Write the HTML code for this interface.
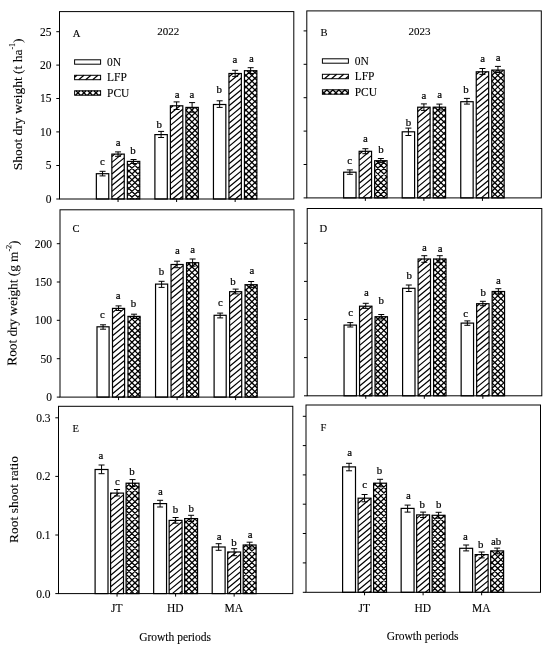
<!DOCTYPE html>
<html lang="en"><head><meta charset="utf-8"><title>Figure</title>
<style>html,body{margin:0;padding:0;background:#fff}svg{display:block}text{font-family:"Liberation Serif", serif;fill:#000;stroke:#000;stroke-width:0.1px}.l{stroke-width:0.2px}</style></head><body>
<svg width="550" height="646" viewBox="0 0 550 646">
<rect width="550" height="646" fill="#fff"/>
<g id="panelA">
<rect x="96.35" y="173.70" width="12.40" height="25.30" fill="#fff" stroke="#000" stroke-width="1.2"/>
<path d="M102.55,171.30 V175.90 M99.55,171.30 h6 M99.55,175.90 h6" stroke="#000" stroke-width="1" fill="none"/>
<rect x="111.85" y="154.10" width="12.40" height="44.90" fill="#fff" stroke="#000" stroke-width="1.2"/>
<path d="M111.85,156.56 L114.82,154.10 M111.85,162.36 L121.81,154.10 M111.85,168.16 L124.25,157.87 M111.85,173.96 L124.25,163.67 M111.85,179.76 L124.25,169.47 M111.85,185.56 L124.25,175.27 M111.85,191.36 L124.25,181.07 M111.85,197.16 L124.25,186.87 M116.63,199.00 L124.25,192.67 M123.61,199.00 L124.25,198.47" stroke="#000" stroke-width="1.2" fill="none"/>
<path d="M118.05,151.90 V156.30 M115.05,151.90 h6 M115.05,156.30 h6" stroke="#000" stroke-width="1" fill="none"/>
<rect x="127.35" y="161.40" width="12.40" height="37.60" fill="#fff" stroke="#000" stroke-width="1.2"/>
<path d="M127.35,166.85 L132.99,161.40 M127.35,172.65 L138.99,161.40 M127.35,178.45 L139.75,166.46 M127.35,184.25 L139.75,172.26 M127.35,190.05 L139.75,178.06 M127.35,195.85 L139.75,183.86 M130.09,199.00 L139.75,189.66 M136.09,199.00 L139.75,195.46 M136.92,161.40 L139.75,164.14 M130.92,161.40 L139.75,169.94 M127.35,163.75 L139.75,175.74 M127.35,169.55 L139.75,181.54 M127.35,175.35 L139.75,187.34 M127.35,181.15 L139.75,193.14 M127.35,186.95 L139.75,198.94 M127.35,192.75 L133.82,199.00 M127.35,198.55 L127.82,199.00" stroke="#000" stroke-width="1.3" fill="none"/>
<path d="M133.55,159.50 V163.50 M130.55,159.50 h6 M130.55,163.50 h6" stroke="#000" stroke-width="1" fill="none"/>
<rect x="154.90" y="134.60" width="12.40" height="64.40" fill="#fff" stroke="#000" stroke-width="1.2"/>
<path d="M161.10,131.40 V137.50 M158.10,131.40 h6 M158.10,137.50 h6" stroke="#000" stroke-width="1" fill="none"/>
<rect x="170.40" y="105.80" width="12.40" height="93.20" fill="#fff" stroke="#000" stroke-width="1.2"/>
<path d="M170.40,107.97 L173.01,105.80 M170.40,113.77 L180.00,105.80 M170.40,119.57 L182.80,109.28 M170.40,125.37 L182.80,115.08 M170.40,131.17 L182.80,120.88 M170.40,136.97 L182.80,126.68 M170.40,142.77 L182.80,132.48 M170.40,148.57 L182.80,138.28 M170.40,154.37 L182.80,144.08 M170.40,160.17 L182.80,149.88 M170.40,165.97 L182.80,155.68 M170.40,171.77 L182.80,161.48 M170.40,177.57 L182.80,167.28 M170.40,183.37 L182.80,173.08 M170.40,189.17 L182.80,178.88 M170.40,194.97 L182.80,184.68 M172.53,199.00 L182.80,190.48 M179.52,199.00 L182.80,196.28" stroke="#000" stroke-width="1.2" fill="none"/>
<path d="M176.60,101.90 V109.50 M173.60,101.90 h6 M173.60,109.50 h6" stroke="#000" stroke-width="1" fill="none"/>
<rect x="185.90" y="107.40" width="12.40" height="91.60" fill="#fff" stroke="#000" stroke-width="1.2"/>
<path d="M185.90,110.23 L188.83,107.40 M185.90,116.03 L194.83,107.40 M185.90,121.83 L198.30,109.84 M185.90,127.63 L198.30,115.64 M185.90,133.43 L198.30,121.44 M185.90,139.23 L198.30,127.24 M185.90,145.03 L198.30,133.04 M185.90,150.83 L198.30,138.84 M185.90,156.63 L198.30,144.64 M185.90,162.43 L198.30,150.44 M185.90,168.23 L198.30,156.24 M185.90,174.03 L198.30,162.04 M185.90,179.83 L198.30,167.84 M185.90,185.63 L198.30,173.64 M185.90,191.43 L198.30,179.44 M185.90,197.23 L198.30,185.24 M190.07,199.00 L198.30,191.04 M196.07,199.00 L198.30,196.84 M195.04,107.40 L198.30,110.56 M189.04,107.40 L198.30,116.36 M185.90,110.17 L198.30,122.16 M185.90,115.97 L198.30,127.96 M185.90,121.77 L198.30,133.76 M185.90,127.57 L198.30,139.56 M185.90,133.37 L198.30,145.36 M185.90,139.17 L198.30,151.16 M185.90,144.97 L198.30,156.96 M185.90,150.77 L198.30,162.76 M185.90,156.57 L198.30,168.56 M185.90,162.37 L198.30,174.36 M185.90,168.17 L198.30,180.16 M185.90,173.97 L198.30,185.96 M185.90,179.77 L198.30,191.76 M185.90,185.57 L198.30,197.56 M185.90,191.37 L193.80,199.00 M185.90,197.17 L187.80,199.00" stroke="#000" stroke-width="1.3" fill="none"/>
<path d="M192.10,102.60 V112.20 M189.10,102.60 h6 M189.10,112.20 h6" stroke="#000" stroke-width="1" fill="none"/>
<rect x="213.45" y="104.50" width="12.40" height="94.50" fill="#fff" stroke="#000" stroke-width="1.2"/>
<path d="M219.65,100.80 V107.40 M216.65,100.80 h6 M216.65,107.40 h6" stroke="#000" stroke-width="1" fill="none"/>
<rect x="228.95" y="73.50" width="12.40" height="125.50" fill="#fff" stroke="#000" stroke-width="1.2"/>
<path d="M228.95,76.77 L232.89,73.50 M228.95,82.57 L239.88,73.50 M228.95,88.37 L241.35,78.08 M228.95,94.17 L241.35,83.88 M228.95,99.97 L241.35,89.68 M228.95,105.77 L241.35,95.48 M228.95,111.57 L241.35,101.28 M228.95,117.37 L241.35,107.08 M228.95,123.17 L241.35,112.88 M228.95,128.97 L241.35,118.68 M228.95,134.77 L241.35,124.48 M228.95,140.57 L241.35,130.28 M228.95,146.37 L241.35,136.08 M228.95,152.17 L241.35,141.88 M228.95,157.97 L241.35,147.68 M228.95,163.77 L241.35,153.48 M228.95,169.57 L241.35,159.28 M228.95,175.37 L241.35,165.08 M228.95,181.17 L241.35,170.88 M228.95,186.97 L241.35,176.68 M228.95,192.77 L241.35,182.48 M228.95,198.57 L241.35,188.28 M235.42,199.00 L241.35,194.08" stroke="#000" stroke-width="1.2" fill="none"/>
<path d="M235.15,70.30 V76.40 M232.15,70.30 h6 M232.15,76.40 h6" stroke="#000" stroke-width="1" fill="none"/>
<rect x="244.45" y="70.70" width="12.40" height="128.30" fill="#fff" stroke="#000" stroke-width="1.2"/>
<path d="M244.45,71.02 L244.78,70.70 M244.45,76.82 L250.78,70.70 M244.45,82.62 L256.77,70.70 M244.45,88.42 L256.85,76.43 M244.45,94.22 L256.85,82.23 M244.45,100.02 L256.85,88.03 M244.45,105.82 L256.85,93.83 M244.45,111.62 L256.85,99.63 M244.45,117.42 L256.85,105.43 M244.45,123.22 L256.85,111.23 M244.45,129.02 L256.85,117.03 M244.45,134.82 L256.85,122.83 M244.45,140.62 L256.85,128.63 M244.45,146.42 L256.85,134.43 M244.45,152.22 L256.85,140.23 M244.45,158.02 L256.85,146.03 M244.45,163.82 L256.85,151.83 M244.45,169.62 L256.85,157.63 M244.45,175.42 L256.85,163.43 M244.45,181.22 L256.85,169.23 M244.45,187.02 L256.85,175.03 M244.45,192.82 L256.85,180.83 M244.45,198.62 L256.85,186.63 M250.05,199.00 L256.85,192.43 M256.05,199.00 L256.85,198.23 M253.05,70.70 L256.85,74.37 M247.05,70.70 L256.85,80.17 M244.45,73.98 L256.85,85.97 M244.45,79.78 L256.85,91.77 M244.45,85.58 L256.85,97.57 M244.45,91.38 L256.85,103.37 M244.45,97.18 L256.85,109.17 M244.45,102.98 L256.85,114.97 M244.45,108.78 L256.85,120.77 M244.45,114.58 L256.85,126.57 M244.45,120.38 L256.85,132.37 M244.45,126.18 L256.85,138.17 M244.45,131.98 L256.85,143.97 M244.45,137.78 L256.85,149.77 M244.45,143.58 L256.85,155.57 M244.45,149.38 L256.85,161.37 M244.45,155.18 L256.85,167.17 M244.45,160.98 L256.85,172.97 M244.45,166.78 L256.85,178.77 M244.45,172.58 L256.85,184.57 M244.45,178.38 L256.85,190.37 M244.45,184.18 L256.85,196.17 M244.45,189.98 L253.77,199.00 M244.45,195.78 L247.78,199.00" stroke="#000" stroke-width="1.3" fill="none"/>
<path d="M250.65,67.70 V73.50 M247.65,67.70 h6 M247.65,73.50 h6" stroke="#000" stroke-width="1" fill="none"/>
<rect x="59.50" y="11.60" width="234.30" height="187.40" fill="none" stroke="#000" stroke-width="1"/>
<path d="M59.50,31.70 h-3.2 M59.50,65.10 h-3.2 M59.50,98.50 h-3.2 M59.50,131.90 h-3.2 M59.50,165.50 h-3.2 M59.50,199.00 h-3.2 M118.05,199.00 v3 M176.60,199.00 v3 M235.15,199.00 v3 " stroke="#000" stroke-width="1" fill="none"/>
<text x="51.60" y="35.60" font-size="11.5" text-anchor="end">25</text>
<text x="51.60" y="69.00" font-size="11.5" text-anchor="end">20</text>
<text x="51.60" y="102.40" font-size="11.5" text-anchor="end">15</text>
<text x="51.60" y="135.80" font-size="11.5" text-anchor="end">10</text>
<text x="51.60" y="169.40" font-size="11.5" text-anchor="end">5</text>
<text x="51.60" y="202.90" font-size="11.5" text-anchor="end">0</text>
<text class="l" x="102.50" y="165.00" font-size="10.8" text-anchor="middle">c</text>
<text class="l" x="118.20" y="145.80" font-size="10.8" text-anchor="middle">a</text>
<text class="l" x="133.00" y="154.10" font-size="10.8" text-anchor="middle">b</text>
<text class="l" x="159.20" y="128.10" font-size="10.8" text-anchor="middle">b</text>
<text class="l" x="177.10" y="98.20" font-size="10.8" text-anchor="middle">a</text>
<text class="l" x="191.90" y="98.20" font-size="10.8" text-anchor="middle">a</text>
<text class="l" x="219.20" y="92.50" font-size="10.8" text-anchor="middle">b</text>
<text class="l" x="234.90" y="62.60" font-size="10.8" text-anchor="middle">a</text>
<text class="l" x="251.30" y="61.50" font-size="10.8" text-anchor="middle">a</text>
<text x="72.70" y="36.80" font-size="10.6">A</text>
<text x="168.20" y="35.10" font-size="11" text-anchor="middle">2022</text>
<rect x="74.60" y="59.80" width="26" height="4.4" fill="#fff" stroke="#000" stroke-width="1"/>
<text x="107.00" y="65.60" font-size="11.5">0N</text>
<rect x="74.60" y="75.30" width="26" height="4.4" fill="#fff" stroke="#000" stroke-width="1"/>
<path d="M74.60,77.28 L76.99,75.30 M78.67,79.70 L83.98,75.30 M85.66,79.70 L90.96,75.30 M92.65,79.70 L97.95,75.30 M99.64,79.70 L100.60,78.90" stroke="#000" stroke-width="1.2" fill="none"/>
<text x="107.00" y="81.10" font-size="11.5">LFP</text>
<rect x="74.60" y="90.80" width="26" height="4.4" fill="#fff" stroke="#000" stroke-width="1"/>
<path d="M75.49,95.20 L80.04,90.80 M81.49,95.20 L86.04,90.80 M87.49,95.20 L92.04,90.80 M93.49,95.20 L98.04,90.80 M99.48,95.20 L100.60,94.12 M99.90,90.80 L100.60,91.48 M93.90,90.80 L98.45,95.20 M87.90,90.80 L92.45,95.20 M81.90,90.80 L86.45,95.20 M75.90,90.80 L80.46,95.20" stroke="#000" stroke-width="1.3" fill="none"/>
<text x="107.00" y="96.60" font-size="11.5">PCU</text>
</g>
<g id="panelB">
<rect x="343.65" y="172.20" width="12.40" height="25.70" fill="#fff" stroke="#000" stroke-width="1.2"/>
<path d="M349.85,169.90 V174.30 M346.85,169.90 h6 M346.85,174.30 h6" stroke="#000" stroke-width="1" fill="none"/>
<rect x="359.15" y="151.30" width="12.40" height="46.60" fill="#fff" stroke="#000" stroke-width="1.2"/>
<path d="M359.15,154.31 L362.77,151.30 M359.15,160.11 L369.76,151.30 M359.15,165.91 L371.55,155.61 M359.15,171.71 L371.55,161.41 M359.15,177.51 L371.55,167.21 M359.15,183.31 L371.55,173.01 M359.15,189.11 L371.55,178.81 M359.15,194.91 L371.55,184.61 M362.53,197.90 L371.55,190.41 M369.52,197.90 L371.55,196.21" stroke="#000" stroke-width="1.2" fill="none"/>
<path d="M365.35,148.70 V153.70 M362.35,148.70 h6 M362.35,153.70 h6" stroke="#000" stroke-width="1" fill="none"/>
<rect x="374.65" y="160.70" width="12.40" height="37.20" fill="#fff" stroke="#000" stroke-width="1.2"/>
<path d="M374.65,165.51 L379.63,160.70 M374.65,171.31 L385.63,160.70 M374.65,177.11 L387.05,165.12 M374.65,182.91 L387.05,170.92 M374.65,188.71 L387.05,176.72 M374.65,194.51 L387.05,182.52 M377.15,197.90 L387.05,188.32 M383.14,197.90 L387.05,194.12 M382.11,160.70 L387.05,165.48 M376.11,160.70 L387.05,171.28 M374.65,165.09 L387.05,177.08 M374.65,170.89 L387.05,182.88 M374.65,176.69 L387.05,188.68 M374.65,182.49 L387.05,194.48 M374.65,188.29 L384.59,197.90 M374.65,194.09 L378.59,197.90" stroke="#000" stroke-width="1.3" fill="none"/>
<path d="M380.85,158.50 V162.60 M377.85,158.50 h6 M377.85,162.60 h6" stroke="#000" stroke-width="1" fill="none"/>
<rect x="402.20" y="131.80" width="12.40" height="66.10" fill="#fff" stroke="#000" stroke-width="1.2"/>
<path d="M408.40,128.10 V135.50 M405.40,128.10 h6 M405.40,135.50 h6" stroke="#000" stroke-width="1" fill="none"/>
<rect x="417.70" y="107.20" width="12.40" height="90.70" fill="#fff" stroke="#000" stroke-width="1.2"/>
<path d="M417.70,111.51 L422.89,107.20 M417.70,117.31 L429.88,107.20 M417.70,123.11 L430.10,112.82 M417.70,128.91 L430.10,118.62 M417.70,134.71 L430.10,124.42 M417.70,140.51 L430.10,130.22 M417.70,146.31 L430.10,136.02 M417.70,152.11 L430.10,141.82 M417.70,157.91 L430.10,147.62 M417.70,163.71 L430.10,153.42 M417.70,169.51 L430.10,159.22 M417.70,175.31 L430.10,165.02 M417.70,181.11 L430.10,170.82 M417.70,186.91 L430.10,176.62 M417.70,192.71 L430.10,182.42 M418.43,197.90 L430.10,188.22 M425.42,197.90 L430.10,194.02" stroke="#000" stroke-width="1.2" fill="none"/>
<path d="M423.90,103.90 V110.40 M420.90,103.90 h6 M420.90,110.40 h6" stroke="#000" stroke-width="1" fill="none"/>
<rect x="433.20" y="107.20" width="12.40" height="90.70" fill="#fff" stroke="#000" stroke-width="1.2"/>
<path d="M433.20,108.90 L434.95,107.20 M433.20,114.70 L440.95,107.20 M433.20,120.50 L445.60,108.50 M433.20,126.30 L445.60,114.30 M433.20,132.10 L445.60,120.10 M433.20,137.90 L445.60,125.90 M433.20,143.70 L445.60,131.70 M433.20,149.50 L445.60,137.50 M433.20,155.30 L445.60,143.30 M433.20,161.10 L445.60,149.10 M433.20,166.90 L445.60,154.90 M433.20,172.70 L445.60,160.70 M433.20,178.50 L445.60,166.50 M433.20,184.30 L445.60,172.30 M433.20,190.10 L445.60,178.10 M433.20,195.90 L445.60,183.90 M437.13,197.90 L445.60,189.70 M443.12,197.90 L445.60,195.50 M440.74,107.20 L445.60,111.90 M434.75,107.20 L445.60,117.70 M433.20,111.50 L445.60,123.50 M433.20,117.30 L445.60,129.30 M433.20,123.10 L445.60,135.10 M433.20,128.90 L445.60,140.90 M433.20,134.70 L445.60,146.70 M433.20,140.50 L445.60,152.50 M433.20,146.30 L445.60,158.30 M433.20,152.10 L445.60,164.10 M433.20,157.90 L445.60,169.90 M433.20,163.70 L445.60,175.70 M433.20,169.50 L445.60,181.50 M433.20,175.30 L445.60,187.30 M433.20,181.10 L445.60,193.10 M433.20,186.90 L444.57,197.90 M433.20,192.70 L438.57,197.90" stroke="#000" stroke-width="1.3" fill="none"/>
<path d="M439.40,104.10 V110.00 M436.40,104.10 h6 M436.40,110.00 h6" stroke="#000" stroke-width="1" fill="none"/>
<rect x="460.75" y="101.70" width="12.40" height="96.20" fill="#fff" stroke="#000" stroke-width="1.2"/>
<path d="M466.95,98.40 V104.10 M463.95,98.40 h6 M463.95,104.10 h6" stroke="#000" stroke-width="1" fill="none"/>
<rect x="476.25" y="71.80" width="12.40" height="126.10" fill="#fff" stroke="#000" stroke-width="1.2"/>
<path d="M476.25,74.51 L479.52,71.80 M476.25,80.31 L486.51,71.80 M476.25,86.11 L488.65,75.82 M476.25,91.91 L488.65,81.62 M476.25,97.71 L488.65,87.42 M476.25,103.51 L488.65,93.22 M476.25,109.31 L488.65,99.02 M476.25,115.11 L488.65,104.82 M476.25,120.91 L488.65,110.62 M476.25,126.71 L488.65,116.42 M476.25,132.51 L488.65,122.22 M476.25,138.31 L488.65,128.02 M476.25,144.11 L488.65,133.82 M476.25,149.91 L488.65,139.62 M476.25,155.71 L488.65,145.42 M476.25,161.51 L488.65,151.22 M476.25,167.31 L488.65,157.02 M476.25,173.11 L488.65,162.82 M476.25,178.91 L488.65,168.62 M476.25,184.71 L488.65,174.42 M476.25,190.51 L488.65,180.22 M476.25,196.31 L488.65,186.02 M481.33,197.90 L488.65,191.82 M488.31,197.90 L488.65,197.62" stroke="#000" stroke-width="1.2" fill="none"/>
<path d="M482.45,68.50 V74.40 M479.45,68.50 h6 M479.45,74.40 h6" stroke="#000" stroke-width="1" fill="none"/>
<rect x="491.75" y="70.10" width="12.40" height="127.80" fill="#fff" stroke="#000" stroke-width="1.2"/>
<path d="M491.75,75.48 L497.31,70.10 M491.75,81.28 L503.31,70.10 M491.75,87.08 L504.15,75.09 M491.75,92.88 L504.15,80.89 M491.75,98.68 L504.15,86.69 M491.75,104.48 L504.15,92.49 M491.75,110.28 L504.15,98.29 M491.75,116.08 L504.15,104.09 M491.75,121.88 L504.15,109.89 M491.75,127.68 L504.15,115.69 M491.75,133.48 L504.15,121.49 M491.75,139.28 L504.15,127.29 M491.75,145.08 L504.15,133.09 M491.75,150.88 L504.15,138.89 M491.75,156.68 L504.15,144.69 M491.75,162.48 L504.15,150.49 M491.75,168.28 L504.15,156.29 M491.75,174.08 L504.15,162.09 M491.75,179.88 L504.15,167.89 M491.75,185.68 L504.15,173.69 M491.75,191.48 L504.15,179.49 M491.75,197.28 L504.15,185.29 M497.10,197.90 L504.15,191.09 M503.10,197.90 L504.15,196.89 M498.35,70.10 L504.15,75.71 M492.35,70.10 L504.15,81.51 M491.75,75.32 L504.15,87.31 M491.75,81.12 L504.15,93.11 M491.75,86.92 L504.15,98.91 M491.75,92.72 L504.15,104.71 M491.75,98.52 L504.15,110.51 M491.75,104.32 L504.15,116.31 M491.75,110.12 L504.15,122.11 M491.75,115.92 L504.15,127.91 M491.75,121.72 L504.15,133.71 M491.75,127.52 L504.15,139.51 M491.75,133.32 L504.15,145.31 M491.75,139.12 L504.15,151.11 M491.75,144.92 L504.15,156.91 M491.75,150.72 L504.15,162.71 M491.75,156.52 L504.15,168.51 M491.75,162.32 L504.15,174.31 M491.75,168.12 L504.15,180.11 M491.75,173.92 L504.15,185.91 M491.75,179.72 L504.15,191.71 M491.75,185.52 L504.15,197.51 M491.75,191.32 L498.55,197.90 M491.75,197.12 L492.55,197.90" stroke="#000" stroke-width="1.3" fill="none"/>
<path d="M497.95,66.40 V72.50 M494.95,66.40 h6 M494.95,72.50 h6" stroke="#000" stroke-width="1" fill="none"/>
<rect x="306.80" y="10.90" width="234.50" height="187.00" fill="none" stroke="#000" stroke-width="1"/>
<path d="M306.80,30.90 h-3.2 M306.80,64.30 h-3.2 M306.80,97.70 h-3.2 M306.80,131.10 h-3.2 M306.80,164.50 h-3.2 M306.80,197.90 h-3.2 M365.35,197.90 v3 M423.90,197.90 v3 M482.45,197.90 v3 " stroke="#000" stroke-width="1" fill="none"/>
<text class="l" x="349.60" y="164.10" font-size="10.8" text-anchor="middle">c</text>
<text class="l" x="365.30" y="142.10" font-size="10.8" text-anchor="middle">a</text>
<text class="l" x="380.90" y="153.20" font-size="10.8" text-anchor="middle">b</text>
<text class="l" x="408.50" y="126.30" font-size="10.8" text-anchor="middle">b</text>
<text class="l" x="423.80" y="99.10" font-size="10.8" text-anchor="middle">a</text>
<text class="l" x="439.70" y="98.40" font-size="10.8" text-anchor="middle">a</text>
<text class="l" x="465.90" y="92.50" font-size="10.8" text-anchor="middle">b</text>
<text class="l" x="482.70" y="62.00" font-size="10.8" text-anchor="middle">a</text>
<text class="l" x="498.20" y="61.30" font-size="10.8" text-anchor="middle">a</text>
<text x="320.50" y="36.40" font-size="10.6">B</text>
<text x="419.60" y="35.00" font-size="11" text-anchor="middle">2023</text>
<rect x="322.40" y="58.80" width="26" height="4.4" fill="#fff" stroke="#000" stroke-width="1"/>
<text x="354.70" y="64.60" font-size="11.5">0N</text>
<rect x="322.40" y="74.30" width="26" height="4.4" fill="#fff" stroke="#000" stroke-width="1"/>
<path d="M322.40,74.61 L322.77,74.30 M324.46,78.70 L329.76,74.30 M331.45,78.70 L336.75,74.30 M338.43,78.70 L343.73,74.30 M345.42,78.70 L348.40,76.23" stroke="#000" stroke-width="1.2" fill="none"/>
<text x="354.70" y="80.10" font-size="11.5">LFP</text>
<rect x="322.40" y="89.80" width="26" height="4.4" fill="#fff" stroke="#000" stroke-width="1"/>
<path d="M322.44,94.20 L326.99,89.80 M328.44,94.20 L332.99,89.80 M334.44,94.20 L338.99,89.80 M340.43,94.20 L344.98,89.80 M346.43,94.20 L348.40,92.30 M344.78,89.80 L348.40,93.30 M338.78,89.80 L343.33,94.20 M332.78,89.80 L337.33,94.20 M326.78,89.80 L331.33,94.20 M322.40,91.36 L325.34,94.20" stroke="#000" stroke-width="1.3" fill="none"/>
<text x="354.70" y="95.60" font-size="11.5">PCU</text>
</g>
<g id="panelC">
<rect x="97.00" y="326.80" width="12.10" height="70.30" fill="#fff" stroke="#000" stroke-width="1.2"/>
<path d="M103.05,324.80 V329.20 M100.05,324.80 h6 M100.05,329.20 h6" stroke="#000" stroke-width="1" fill="none"/>
<rect x="112.50" y="308.40" width="12.10" height="88.70" fill="#fff" stroke="#000" stroke-width="1.2"/>
<path d="M112.50,312.62 L117.59,308.40 M112.50,318.43 L124.58,308.40 M112.50,324.22 L124.60,314.18 M112.50,330.02 L124.60,319.98 M112.50,335.82 L124.60,325.78 M112.50,341.62 L124.60,331.58 M112.50,347.43 L124.60,337.38 M112.50,353.22 L124.60,343.18 M112.50,359.02 L124.60,348.98 M112.50,364.82 L124.60,354.78 M112.50,370.62 L124.60,360.58 M112.50,376.43 L124.60,366.38 M112.50,382.22 L124.60,372.18 M112.50,388.02 L124.60,377.98 M112.50,393.82 L124.60,383.78 M115.54,397.10 L124.60,389.58 M122.53,397.10 L124.60,395.38" stroke="#000" stroke-width="1.2" fill="none"/>
<path d="M118.55,305.90 V310.50 M115.55,305.90 h6 M115.55,310.50 h6" stroke="#000" stroke-width="1" fill="none"/>
<rect x="128.00" y="316.40" width="12.10" height="80.70" fill="#fff" stroke="#000" stroke-width="1.2"/>
<path d="M128.00,317.02 L128.65,316.40 M128.00,322.82 L134.64,316.40 M128.00,328.62 L140.10,316.92 M128.00,334.42 L140.10,322.72 M128.00,340.22 L140.10,328.52 M128.00,346.02 L140.10,334.32 M128.00,351.82 L140.10,340.12 M128.00,357.62 L140.10,345.92 M128.00,363.42 L140.10,351.72 M128.00,369.22 L140.10,357.52 M128.00,375.02 L140.10,363.32 M128.00,380.82 L140.10,369.12 M128.00,386.62 L140.10,374.92 M128.00,392.42 L140.10,380.72 M129.16,397.10 L140.10,386.52 M135.16,397.10 L140.10,392.32 M135.26,316.40 L140.10,321.08 M129.27,316.40 L140.10,326.88 M128.00,320.98 L140.10,332.68 M128.00,326.78 L140.10,338.48 M128.00,332.58 L140.10,344.28 M128.00,338.38 L140.10,350.08 M128.00,344.18 L140.10,355.88 M128.00,349.98 L140.10,361.68 M128.00,355.78 L140.10,367.48 M128.00,361.58 L140.10,373.28 M128.00,367.38 L140.10,379.08 M128.00,373.18 L140.10,384.88 M128.00,378.98 L140.10,390.68 M128.00,384.78 L140.10,396.48 M128.00,390.58 L134.75,397.10 M128.00,396.38 L128.75,397.10" stroke="#000" stroke-width="1.3" fill="none"/>
<path d="M134.05,314.20 V318.50 M131.05,314.20 h6 M131.05,318.50 h6" stroke="#000" stroke-width="1" fill="none"/>
<rect x="155.55" y="284.10" width="12.10" height="113.00" fill="#fff" stroke="#000" stroke-width="1.2"/>
<path d="M161.60,281.30 V287.40 M158.60,281.30 h6 M158.60,287.40 h6" stroke="#000" stroke-width="1" fill="none"/>
<rect x="171.05" y="264.50" width="12.10" height="132.60" fill="#fff" stroke="#000" stroke-width="1.2"/>
<path d="M171.05,269.83 L177.47,264.50 M171.05,275.63 L183.15,265.59 M171.05,281.43 L183.15,271.39 M171.05,287.23 L183.15,277.19 M171.05,293.03 L183.15,282.99 M171.05,298.83 L183.15,288.79 M171.05,304.63 L183.15,294.59 M171.05,310.43 L183.15,300.39 M171.05,316.23 L183.15,306.19 M171.05,322.03 L183.15,311.99 M171.05,327.83 L183.15,317.79 M171.05,333.63 L183.15,323.59 M171.05,339.43 L183.15,329.39 M171.05,345.23 L183.15,335.19 M171.05,351.03 L183.15,340.99 M171.05,356.83 L183.15,346.79 M171.05,362.63 L183.15,352.59 M171.05,368.43 L183.15,358.39 M171.05,374.23 L183.15,364.19 M171.05,380.03 L183.15,369.99 M171.05,385.83 L183.15,375.79 M171.05,391.63 L183.15,381.59 M171.45,397.10 L183.15,387.39 M178.43,397.10 L183.15,393.19" stroke="#000" stroke-width="1.2" fill="none"/>
<path d="M177.10,261.20 V267.70 M174.10,261.20 h6 M174.10,267.70 h6" stroke="#000" stroke-width="1" fill="none"/>
<rect x="186.55" y="262.70" width="12.10" height="134.40" fill="#fff" stroke="#000" stroke-width="1.2"/>
<path d="M186.55,266.21 L190.18,262.70 M186.55,272.01 L196.17,262.70 M186.55,277.81 L198.65,266.11 M186.55,283.61 L198.65,271.91 M186.55,289.41 L198.65,277.71 M186.55,295.21 L198.65,283.51 M186.55,301.01 L198.65,289.31 M186.55,306.81 L198.65,295.11 M186.55,312.61 L198.65,300.91 M186.55,318.41 L198.65,306.71 M186.55,324.21 L198.65,312.51 M186.55,330.01 L198.65,318.31 M186.55,335.81 L198.65,324.11 M186.55,341.61 L198.65,329.91 M186.55,347.41 L198.65,335.71 M186.55,353.21 L198.65,341.51 M186.55,359.01 L198.65,347.31 M186.55,364.81 L198.65,353.11 M186.55,370.61 L198.65,358.91 M186.55,376.41 L198.65,364.71 M186.55,382.21 L198.65,370.51 M186.55,388.01 L198.65,376.31 M186.55,393.81 L198.65,382.11 M189.14,397.10 L198.65,387.91 M195.14,397.10 L198.65,393.71 M193.69,262.70 L198.65,267.49 M187.69,262.70 L198.65,273.29 M186.55,267.39 L198.65,279.09 M186.55,273.19 L198.65,284.89 M186.55,278.99 L198.65,290.69 M186.55,284.79 L198.65,296.49 M186.55,290.59 L198.65,302.29 M186.55,296.39 L198.65,308.09 M186.55,302.19 L198.65,313.89 M186.55,307.99 L198.65,319.69 M186.55,313.79 L198.65,325.49 M186.55,319.59 L198.65,331.29 M186.55,325.39 L198.65,337.09 M186.55,331.19 L198.65,342.89 M186.55,336.99 L198.65,348.69 M186.55,342.79 L198.65,354.49 M186.55,348.59 L198.65,360.29 M186.55,354.39 L198.65,366.09 M186.55,360.19 L198.65,371.89 M186.55,365.99 L198.65,377.69 M186.55,371.79 L198.65,383.49 M186.55,377.59 L198.65,389.29 M186.55,383.39 L198.65,395.09 M186.55,389.19 L194.73,397.10 M186.55,394.99 L188.73,397.10" stroke="#000" stroke-width="1.3" fill="none"/>
<path d="M192.60,259.00 V266.20 M189.60,259.00 h6 M189.60,266.20 h6" stroke="#000" stroke-width="1" fill="none"/>
<rect x="214.10" y="315.30" width="12.10" height="81.80" fill="#fff" stroke="#000" stroke-width="1.2"/>
<path d="M220.15,313.10 V317.90 M217.15,313.10 h6 M217.15,317.90 h6" stroke="#000" stroke-width="1" fill="none"/>
<rect x="229.60" y="291.70" width="12.10" height="105.40" fill="#fff" stroke="#000" stroke-width="1.2"/>
<path d="M229.60,296.63 L235.54,291.70 M229.60,302.43 L241.70,292.39 M229.60,308.23 L241.70,298.19 M229.60,314.03 L241.70,303.99 M229.60,319.83 L241.70,309.79 M229.60,325.63 L241.70,315.59 M229.60,331.43 L241.70,321.39 M229.60,337.23 L241.70,327.19 M229.60,343.03 L241.70,332.99 M229.60,348.83 L241.70,338.79 M229.60,354.63 L241.70,344.59 M229.60,360.43 L241.70,350.39 M229.60,366.23 L241.70,356.19 M229.60,372.03 L241.70,361.99 M229.60,377.83 L241.70,367.79 M229.60,383.63 L241.70,373.59 M229.60,389.43 L241.70,379.39 M229.60,395.23 L241.70,385.19 M234.34,397.10 L241.70,390.99 M241.33,397.10 L241.70,396.79" stroke="#000" stroke-width="1.2" fill="none"/>
<path d="M235.65,289.10 V293.90 M232.65,289.10 h6 M232.65,293.90 h6" stroke="#000" stroke-width="1" fill="none"/>
<rect x="245.10" y="284.70" width="12.10" height="112.40" fill="#fff" stroke="#000" stroke-width="1.2"/>
<path d="M245.10,284.99 L245.40,284.70 M245.10,290.79 L251.40,284.70 M245.10,296.59 L257.20,284.89 M245.10,302.39 L257.20,290.69 M245.10,308.19 L257.20,296.49 M245.10,313.99 L257.20,302.29 M245.10,319.79 L257.20,308.09 M245.10,325.59 L257.20,313.89 M245.10,331.39 L257.20,319.69 M245.10,337.19 L257.20,325.49 M245.10,342.99 L257.20,331.29 M245.10,348.79 L257.20,337.09 M245.10,354.59 L257.20,342.89 M245.10,360.39 L257.20,348.69 M245.10,366.19 L257.20,354.49 M245.10,371.99 L257.20,360.29 M245.10,377.79 L257.20,366.09 M245.10,383.59 L257.20,371.89 M245.10,389.39 L257.20,377.69 M245.10,395.19 L257.20,383.49 M249.12,397.10 L257.20,389.29 M255.12,397.10 L257.20,395.09 M252.43,284.70 L257.20,289.31 M246.43,284.70 L257.20,295.11 M245.10,289.21 L257.20,300.91 M245.10,295.01 L257.20,306.71 M245.10,300.81 L257.20,312.51 M245.10,306.61 L257.20,318.31 M245.10,312.41 L257.20,324.11 M245.10,318.21 L257.20,329.91 M245.10,324.01 L257.20,335.71 M245.10,329.81 L257.20,341.51 M245.10,335.61 L257.20,347.31 M245.10,341.41 L257.20,353.11 M245.10,347.21 L257.20,358.91 M245.10,353.01 L257.20,364.71 M245.10,358.81 L257.20,370.51 M245.10,364.61 L257.20,376.31 M245.10,370.41 L257.20,382.11 M245.10,376.21 L257.20,387.91 M245.10,382.01 L257.20,393.71 M245.10,387.81 L254.71,397.10 M245.10,393.61 L248.71,397.10" stroke="#000" stroke-width="1.3" fill="none"/>
<path d="M251.15,281.50 V287.40 M248.15,281.50 h6 M248.15,287.40 h6" stroke="#000" stroke-width="1" fill="none"/>
<rect x="60.00" y="209.80" width="234.00" height="187.30" fill="none" stroke="#000" stroke-width="1"/>
<path d="M60.00,243.70 h-3.2 M60.00,282.00 h-3.2 M60.00,320.30 h-3.2 M60.00,358.70 h-3.2 M60.00,397.10 h-3.2 M118.55,397.10 v3 M177.10,397.10 v3 M235.65,397.10 v3 " stroke="#000" stroke-width="1" fill="none"/>
<text x="52.10" y="247.60" font-size="11.5" text-anchor="end">200</text>
<text x="52.10" y="285.90" font-size="11.5" text-anchor="end">150</text>
<text x="52.10" y="324.20" font-size="11.5" text-anchor="end">100</text>
<text x="52.10" y="362.60" font-size="11.5" text-anchor="end">50</text>
<text x="52.10" y="401.00" font-size="11.5" text-anchor="end">0</text>
<text class="l" x="102.50" y="318.10" font-size="10.8" text-anchor="middle">c</text>
<text class="l" x="118.20" y="298.90" font-size="10.8" text-anchor="middle">a</text>
<text class="l" x="133.40" y="307.30" font-size="10.8" text-anchor="middle">b</text>
<text class="l" x="161.40" y="275.40" font-size="10.8" text-anchor="middle">b</text>
<text class="l" x="177.30" y="254.20" font-size="10.8" text-anchor="middle">a</text>
<text class="l" x="192.60" y="252.90" font-size="10.8" text-anchor="middle">a</text>
<text class="l" x="220.30" y="305.90" font-size="10.8" text-anchor="middle">c</text>
<text class="l" x="232.90" y="284.70" font-size="10.8" text-anchor="middle">b</text>
<text class="l" x="251.90" y="273.80" font-size="10.8" text-anchor="middle">a</text>
<text x="72.50" y="232.40" font-size="10.6">C</text>
</g>
<g id="panelD">
<rect x="344.05" y="325.10" width="12.40" height="70.70" fill="#fff" stroke="#000" stroke-width="1.2"/>
<path d="M350.25,322.60 V327.00 M347.25,322.60 h6 M347.25,327.00 h6" stroke="#000" stroke-width="1" fill="none"/>
<rect x="359.55" y="306.20" width="12.40" height="89.60" fill="#fff" stroke="#000" stroke-width="1.2"/>
<path d="M359.55,310.57 L364.82,306.20 M359.55,316.37 L371.81,306.20 M359.55,322.17 L371.95,311.88 M359.55,327.97 L371.95,317.68 M359.55,333.77 L371.95,323.48 M359.55,339.57 L371.95,329.28 M359.55,345.37 L371.95,335.08 M359.55,351.17 L371.95,340.88 M359.55,356.97 L371.95,346.68 M359.55,362.77 L371.95,352.48 M359.55,368.57 L371.95,358.28 M359.55,374.37 L371.95,364.08 M359.55,380.17 L371.95,369.88 M359.55,385.97 L371.95,375.68 M359.55,391.77 L371.95,381.48 M361.69,395.80 L371.95,387.28 M368.67,395.80 L371.95,393.08" stroke="#000" stroke-width="1.2" fill="none"/>
<path d="M365.75,303.30 V308.40 M362.75,303.30 h6 M362.75,308.40 h6" stroke="#000" stroke-width="1" fill="none"/>
<rect x="375.05" y="316.70" width="12.40" height="79.10" fill="#fff" stroke="#000" stroke-width="1.2"/>
<path d="M375.05,321.73 L380.25,316.70 M375.05,327.53 L386.25,316.70 M375.05,333.33 L387.45,321.34 M375.05,339.13 L387.45,327.14 M375.05,344.93 L387.45,332.94 M375.05,350.73 L387.45,338.74 M375.05,356.53 L387.45,344.54 M375.05,362.33 L387.45,350.34 M375.05,368.13 L387.45,356.14 M375.05,373.93 L387.45,361.94 M375.05,379.73 L387.45,367.74 M375.05,385.53 L387.45,373.54 M375.05,391.33 L387.45,379.34 M376.42,395.80 L387.45,385.14 M382.42,395.80 L387.45,390.94 M381.49,316.70 L387.45,322.46 M375.49,316.70 L387.45,328.26 M375.05,322.07 L387.45,334.06 M375.05,327.87 L387.45,339.86 M375.05,333.67 L387.45,345.66 M375.05,339.47 L387.45,351.46 M375.05,345.27 L387.45,357.26 M375.05,351.07 L387.45,363.06 M375.05,356.87 L387.45,368.86 M375.05,362.67 L387.45,374.66 M375.05,368.47 L387.45,380.46 M375.05,374.27 L387.45,386.26 M375.05,380.07 L387.45,392.06 M375.05,385.87 L385.32,395.80 M375.05,391.67 L379.32,395.80" stroke="#000" stroke-width="1.3" fill="none"/>
<path d="M381.25,314.50 V319.00 M378.25,314.50 h6 M378.25,319.00 h6" stroke="#000" stroke-width="1" fill="none"/>
<rect x="402.60" y="288.30" width="12.40" height="107.50" fill="#fff" stroke="#000" stroke-width="1.2"/>
<path d="M408.80,285.00 V291.50 M405.80,285.00 h6 M405.80,291.50 h6" stroke="#000" stroke-width="1" fill="none"/>
<rect x="418.10" y="259.00" width="12.40" height="136.80" fill="#fff" stroke="#000" stroke-width="1.2"/>
<path d="M418.10,261.98 L421.69,259.00 M418.10,267.78 L428.67,259.00 M418.10,273.58 L430.50,263.29 M418.10,279.38 L430.50,269.09 M418.10,285.18 L430.50,274.88 M418.10,290.98 L430.50,280.69 M418.10,296.78 L430.50,286.49 M418.10,302.58 L430.50,292.29 M418.10,308.38 L430.50,298.09 M418.10,314.18 L430.50,303.88 M418.10,319.98 L430.50,309.69 M418.10,325.78 L430.50,315.49 M418.10,331.58 L430.50,321.29 M418.10,337.38 L430.50,327.09 M418.10,343.18 L430.50,332.88 M418.10,348.98 L430.50,338.69 M418.10,354.78 L430.50,344.49 M418.10,360.58 L430.50,350.29 M418.10,366.38 L430.50,356.09 M418.10,372.18 L430.50,361.88 M418.10,377.98 L430.50,367.69 M418.10,383.78 L430.50,373.49 M418.10,389.58 L430.50,379.29 M418.10,395.38 L430.50,385.09 M424.58,395.80 L430.50,390.88" stroke="#000" stroke-width="1.2" fill="none"/>
<path d="M424.30,255.70 V262.30 M421.30,255.70 h6 M421.30,262.30 h6" stroke="#000" stroke-width="1" fill="none"/>
<rect x="433.60" y="259.00" width="12.40" height="136.80" fill="#fff" stroke="#000" stroke-width="1.2"/>
<path d="M433.60,259.31 L433.92,259.00 M433.60,265.11 L439.92,259.00 M433.60,270.91 L445.92,259.00 M433.60,276.71 L446.00,264.72 M433.60,282.51 L446.00,270.52 M433.60,288.31 L446.00,276.32 M433.60,294.11 L446.00,282.12 M433.60,299.91 L446.00,287.92 M433.60,305.71 L446.00,293.72 M433.60,311.51 L446.00,299.52 M433.60,317.31 L446.00,305.32 M433.60,323.11 L446.00,311.12 M433.60,328.91 L446.00,316.92 M433.60,334.71 L446.00,322.72 M433.60,340.51 L446.00,328.52 M433.60,346.31 L446.00,334.32 M433.60,352.11 L446.00,340.12 M433.60,357.91 L446.00,345.92 M433.60,363.71 L446.00,351.72 M433.60,369.51 L446.00,357.52 M433.60,375.31 L446.00,363.32 M433.60,381.11 L446.00,369.12 M433.60,386.91 L446.00,374.92 M433.60,392.71 L446.00,380.72 M436.40,395.80 L446.00,386.52 M442.40,395.80 L446.00,392.32 M441.78,259.00 L446.00,263.08 M435.78,259.00 L446.00,268.88 M433.60,262.69 L446.00,274.68 M433.60,268.49 L446.00,280.48 M433.60,274.29 L446.00,286.28 M433.60,280.09 L446.00,292.08 M433.60,285.89 L446.00,297.88 M433.60,291.69 L446.00,303.68 M433.60,297.49 L446.00,309.48 M433.60,303.29 L446.00,315.28 M433.60,309.09 L446.00,321.08 M433.60,314.89 L446.00,326.88 M433.60,320.69 L446.00,332.68 M433.60,326.49 L446.00,338.48 M433.60,332.29 L446.00,344.28 M433.60,338.09 L446.00,350.08 M433.60,343.89 L446.00,355.88 M433.60,349.69 L446.00,361.68 M433.60,355.49 L446.00,367.48 M433.60,361.29 L446.00,373.28 M433.60,367.09 L446.00,379.08 M433.60,372.89 L446.00,384.88 M433.60,378.69 L446.00,390.68 M433.60,384.49 L445.29,395.80 M433.60,390.29 L439.30,395.80" stroke="#000" stroke-width="1.3" fill="none"/>
<path d="M439.80,255.70 V262.70 M436.80,255.70 h6 M436.80,262.70 h6" stroke="#000" stroke-width="1" fill="none"/>
<rect x="461.15" y="323.10" width="12.40" height="72.70" fill="#fff" stroke="#000" stroke-width="1.2"/>
<path d="M467.35,320.90 V325.30 M464.35,320.90 h6 M464.35,325.30 h6" stroke="#000" stroke-width="1" fill="none"/>
<rect x="476.65" y="303.70" width="12.40" height="92.10" fill="#fff" stroke="#000" stroke-width="1.2"/>
<path d="M476.65,306.18 L479.64,303.70 M476.65,311.98 L486.63,303.70 M476.65,317.78 L489.05,307.49 M476.65,323.58 L489.05,313.29 M476.65,329.38 L489.05,319.09 M476.65,335.18 L489.05,324.89 M476.65,340.98 L489.05,330.69 M476.65,346.78 L489.05,336.49 M476.65,352.58 L489.05,342.29 M476.65,358.38 L489.05,348.09 M476.65,364.18 L489.05,353.89 M476.65,369.98 L489.05,359.69 M476.65,375.78 L489.05,365.49 M476.65,381.58 L489.05,371.29 M476.65,387.38 L489.05,377.09 M476.65,393.18 L489.05,382.89 M480.48,395.80 L489.05,388.69 M487.47,395.80 L489.05,394.49" stroke="#000" stroke-width="1.2" fill="none"/>
<path d="M482.85,301.30 V305.70 M479.85,301.30 h6 M479.85,305.70 h6" stroke="#000" stroke-width="1" fill="none"/>
<rect x="492.15" y="291.50" width="12.40" height="104.30" fill="#fff" stroke="#000" stroke-width="1.2"/>
<path d="M492.15,295.49 L496.28,291.50 M492.15,301.29 L502.28,291.50 M492.15,307.09 L504.55,295.10 M492.15,312.89 L504.55,300.90 M492.15,318.69 L504.55,306.70 M492.15,324.49 L504.55,312.50 M492.15,330.29 L504.55,318.30 M492.15,336.09 L504.55,324.10 M492.15,341.89 L504.55,329.90 M492.15,347.69 L504.55,335.70 M492.15,353.49 L504.55,341.50 M492.15,359.29 L504.55,347.30 M492.15,365.09 L504.55,353.10 M492.15,370.89 L504.55,358.90 M492.15,376.69 L504.55,364.70 M492.15,382.49 L504.55,370.50 M492.15,388.29 L504.55,376.30 M492.15,394.09 L504.55,382.10 M496.38,395.80 L504.55,387.90 M502.38,395.80 L504.55,393.70 M499.38,291.50 L504.55,296.50 M493.38,291.50 L504.55,302.30 M492.15,296.11 L504.55,308.10 M492.15,301.91 L504.55,313.90 M492.15,307.71 L504.55,319.70 M492.15,313.51 L504.55,325.50 M492.15,319.31 L504.55,331.30 M492.15,325.11 L504.55,337.10 M492.15,330.91 L504.55,342.90 M492.15,336.71 L504.55,348.70 M492.15,342.51 L504.55,354.50 M492.15,348.31 L504.55,360.30 M492.15,354.11 L504.55,366.10 M492.15,359.91 L504.55,371.90 M492.15,365.71 L504.55,377.70 M492.15,371.51 L504.55,383.50 M492.15,377.31 L504.55,389.30 M492.15,383.11 L504.55,395.10 M492.15,388.91 L499.28,395.80 M492.15,394.71 L493.28,395.80" stroke="#000" stroke-width="1.3" fill="none"/>
<path d="M498.35,288.70 V294.00 M495.35,288.70 h6 M495.35,294.00 h6" stroke="#000" stroke-width="1" fill="none"/>
<rect x="307.20" y="208.50" width="234.60" height="187.30" fill="none" stroke="#000" stroke-width="1"/>
<path d="M307.20,243.30 h-3.2 M307.20,281.40 h-3.2 M307.20,319.50 h-3.2 M307.20,357.60 h-3.2 M307.20,395.80 h-3.2 M365.75,395.80 v3 M424.30,395.80 v3 M482.85,395.80 v3 " stroke="#000" stroke-width="1" fill="none"/>
<text class="l" x="350.70" y="315.60" font-size="10.8" text-anchor="middle">c</text>
<text class="l" x="366.40" y="296.00" font-size="10.8" text-anchor="middle">a</text>
<text class="l" x="381.20" y="304.30" font-size="10.8" text-anchor="middle">b</text>
<text class="l" x="409.20" y="279.10" font-size="10.8" text-anchor="middle">b</text>
<text class="l" x="424.50" y="251.20" font-size="10.8" text-anchor="middle">a</text>
<text class="l" x="440.20" y="251.80" font-size="10.8" text-anchor="middle">a</text>
<text class="l" x="465.70" y="317.30" font-size="10.8" text-anchor="middle">c</text>
<text class="l" x="483.20" y="295.90" font-size="10.8" text-anchor="middle">b</text>
<text class="l" x="498.40" y="284.30" font-size="10.8" text-anchor="middle">a</text>
<text x="319.60" y="232.00" font-size="10.6">D</text>
</g>
<g id="panelE">
<rect x="95.10" y="469.50" width="12.90" height="124.10" fill="#fff" stroke="#000" stroke-width="1.2"/>
<path d="M101.55,465.00 V473.70 M98.55,465.00 h6 M98.55,473.70 h6" stroke="#000" stroke-width="1" fill="none"/>
<rect x="110.60" y="493.10" width="12.90" height="100.50" fill="#fff" stroke="#000" stroke-width="1.2"/>
<path d="M110.60,494.00 L111.69,493.10 M110.60,499.80 L118.67,493.10 M110.60,505.60 L123.50,494.89 M110.60,511.40 L123.50,500.69 M110.60,517.20 L123.50,506.50 M110.60,523.00 L123.50,512.29 M110.60,528.80 L123.50,518.10 M110.60,534.60 L123.50,523.89 M110.60,540.40 L123.50,529.69 M110.60,546.20 L123.50,535.50 M110.60,552.00 L123.50,541.29 M110.60,557.80 L123.50,547.10 M110.60,563.60 L123.50,552.89 M110.60,569.40 L123.50,558.69 M110.60,575.20 L123.50,564.50 M110.60,581.00 L123.50,570.29 M110.60,586.80 L123.50,576.10 M110.60,592.60 L123.50,581.89 M116.39,593.60 L123.50,587.69 M123.37,593.60 L123.50,593.50" stroke="#000" stroke-width="1.2" fill="none"/>
<path d="M117.05,489.50 V496.00 M114.05,489.50 h6 M114.05,496.00 h6" stroke="#000" stroke-width="1" fill="none"/>
<rect x="126.10" y="483.20" width="12.90" height="110.40" fill="#fff" stroke="#000" stroke-width="1.2"/>
<path d="M126.10,487.06 L130.09,483.20 M126.10,492.86 L136.09,483.20 M126.10,498.66 L139.00,486.19 M126.10,504.46 L139.00,491.99 M126.10,510.26 L139.00,497.79 M126.10,516.06 L139.00,503.59 M126.10,521.86 L139.00,509.39 M126.10,527.66 L139.00,515.19 M126.10,533.46 L139.00,520.99 M126.10,539.26 L139.00,526.79 M126.10,545.06 L139.00,532.59 M126.10,550.86 L139.00,538.39 M126.10,556.66 L139.00,544.19 M126.10,562.46 L139.00,549.99 M126.10,568.26 L139.00,555.79 M126.10,574.06 L139.00,561.59 M126.10,579.86 L139.00,567.39 M126.10,585.66 L139.00,573.19 M126.10,591.46 L139.00,578.99 M129.89,593.60 L139.00,584.79 M135.88,593.60 L139.00,590.59 M133.82,483.20 L139.00,488.21 M127.82,483.20 L139.00,494.01 M126.10,487.34 L139.00,499.81 M126.10,493.14 L139.00,505.61 M126.10,498.94 L139.00,511.41 M126.10,504.74 L139.00,517.21 M126.10,510.54 L139.00,523.01 M126.10,516.34 L139.00,528.81 M126.10,522.14 L139.00,534.61 M126.10,527.94 L139.00,540.41 M126.10,533.74 L139.00,546.21 M126.10,539.54 L139.00,552.01 M126.10,545.34 L139.00,557.81 M126.10,551.14 L139.00,563.61 M126.10,556.94 L139.00,569.41 M126.10,562.74 L139.00,575.21 M126.10,568.54 L139.00,581.01 M126.10,574.34 L139.00,586.81 M126.10,580.14 L139.00,592.61 M126.10,585.94 L134.02,593.60 M126.10,591.74 L128.02,593.60" stroke="#000" stroke-width="1.3" fill="none"/>
<path d="M132.55,479.60 V486.50 M129.55,479.60 h6 M129.55,486.50 h6" stroke="#000" stroke-width="1" fill="none"/>
<rect x="153.65" y="503.60" width="12.90" height="90.00" fill="#fff" stroke="#000" stroke-width="1.2"/>
<path d="M160.10,500.30 V507.00 M157.10,500.30 h6 M157.10,507.00 h6" stroke="#000" stroke-width="1" fill="none"/>
<rect x="169.15" y="520.40" width="12.90" height="73.20" fill="#fff" stroke="#000" stroke-width="1.2"/>
<path d="M169.15,520.81 L169.64,520.40 M169.15,526.61 L176.63,520.40 M169.15,532.41 L182.05,521.70 M169.15,538.21 L182.05,527.50 M169.15,544.01 L182.05,533.30 M169.15,549.81 L182.05,539.10 M169.15,555.61 L182.05,544.90 M169.15,561.41 L182.05,550.70 M169.15,567.21 L182.05,556.50 M169.15,573.01 L182.05,562.30 M169.15,578.81 L182.05,568.10 M169.15,584.61 L182.05,573.90 M169.15,590.41 L182.05,579.70 M172.29,593.60 L182.05,585.50 M179.28,593.60 L182.05,591.30" stroke="#000" stroke-width="1.2" fill="none"/>
<path d="M175.60,517.50 V523.20 M172.60,517.50 h6 M172.60,523.20 h6" stroke="#000" stroke-width="1" fill="none"/>
<rect x="184.65" y="518.60" width="12.90" height="75.00" fill="#fff" stroke="#000" stroke-width="1.2"/>
<path d="M184.65,523.24 L189.45,518.60 M184.65,529.04 L195.45,518.60 M184.65,534.84 L197.55,522.37 M184.65,540.64 L197.55,528.17 M184.65,546.44 L197.55,533.97 M184.65,552.24 L197.55,539.77 M184.65,558.04 L197.55,545.57 M184.65,563.84 L197.55,551.37 M184.65,569.64 L197.55,557.17 M184.65,575.44 L197.55,562.97 M184.65,581.24 L197.55,568.77 M184.65,587.04 L197.55,574.57 M184.65,592.84 L197.55,580.37 M189.87,593.60 L197.55,586.17 M195.86,593.60 L197.55,591.97 M194.42,518.60 L197.55,521.63 M188.42,518.60 L197.55,527.43 M184.65,520.76 L197.55,533.23 M184.65,526.56 L197.55,539.03 M184.65,532.36 L197.55,544.83 M184.65,538.16 L197.55,550.63 M184.65,543.96 L197.55,556.43 M184.65,549.76 L197.55,562.23 M184.65,555.56 L197.55,568.03 M184.65,561.36 L197.55,573.83 M184.65,567.16 L197.55,579.63 M184.65,572.96 L197.55,585.43 M184.65,578.76 L197.55,591.23 M184.65,584.56 L194.00,593.60 M184.65,590.36 L188.00,593.60" stroke="#000" stroke-width="1.3" fill="none"/>
<path d="M191.10,515.30 V521.50 M188.10,515.30 h6 M188.10,521.50 h6" stroke="#000" stroke-width="1" fill="none"/>
<rect x="212.20" y="547.00" width="12.90" height="46.60" fill="#fff" stroke="#000" stroke-width="1.2"/>
<path d="M218.65,543.70 V550.30 M215.65,543.70 h6 M215.65,550.30 h6" stroke="#000" stroke-width="1" fill="none"/>
<rect x="227.70" y="552.00" width="12.90" height="41.60" fill="#fff" stroke="#000" stroke-width="1.2"/>
<path d="M227.70,553.41 L229.40,552.00 M227.70,559.21 L236.39,552.00 M227.70,565.01 L240.60,554.30 M227.70,570.81 L240.60,560.10 M227.70,576.61 L240.60,565.90 M227.70,582.41 L240.60,571.70 M227.70,588.21 L240.60,577.50 M228.19,593.60 L240.60,583.30 M235.18,593.60 L240.60,589.10" stroke="#000" stroke-width="1.2" fill="none"/>
<path d="M234.15,548.70 V555.70 M231.15,548.70 h6 M231.15,555.70 h6" stroke="#000" stroke-width="1" fill="none"/>
<rect x="243.20" y="545.00" width="12.90" height="48.60" fill="#fff" stroke="#000" stroke-width="1.2"/>
<path d="M243.20,547.83 L246.12,545.00 M243.20,553.63 L252.12,545.00 M243.20,559.43 L256.10,546.95 M243.20,565.23 L256.10,552.75 M243.20,571.03 L256.10,558.55 M243.20,576.83 L256.10,564.35 M243.20,582.63 L256.10,570.15 M243.20,588.43 L256.10,575.95 M243.85,593.60 L256.10,581.75 M249.84,593.60 L256.10,587.55 M255.84,593.60 L256.10,593.35 M251.71,545.00 L256.10,549.25 M245.71,545.00 L256.10,555.05 M243.20,548.37 L256.10,560.85 M243.20,554.17 L256.10,566.65 M243.20,559.97 L256.10,572.45 M243.20,565.77 L256.10,578.25 M243.20,571.57 L256.10,584.05 M243.20,577.37 L256.10,589.85 M243.20,583.17 L253.98,593.60 M243.20,588.97 L247.98,593.60" stroke="#000" stroke-width="1.3" fill="none"/>
<path d="M249.65,542.20 V548.10 M246.65,542.20 h6 M246.65,548.10 h6" stroke="#000" stroke-width="1" fill="none"/>
<rect x="58.50" y="406.30" width="234.30" height="187.30" fill="none" stroke="#000" stroke-width="1"/>
<path d="M58.50,417.80 h-3.2 M58.50,476.40 h-3.2 M58.50,535.00 h-3.2 M58.50,593.60 h-3.2 M117.05,593.60 v3 M175.60,593.60 v3 M234.15,593.60 v3 " stroke="#000" stroke-width="1" fill="none"/>
<text x="50.60" y="421.70" font-size="11.5" text-anchor="end">0.3</text>
<text x="50.60" y="480.30" font-size="11.5" text-anchor="end">0.2</text>
<text x="50.60" y="538.90" font-size="11.5" text-anchor="end">0.1</text>
<text x="50.60" y="597.50" font-size="11.5" text-anchor="end">0.0</text>
<text class="l" x="101.00" y="459.20" font-size="10.8" text-anchor="middle">a</text>
<text class="l" x="117.30" y="484.70" font-size="10.8" text-anchor="middle">c</text>
<text class="l" x="132.00" y="475.30" font-size="10.8" text-anchor="middle">b</text>
<text class="l" x="160.30" y="494.60" font-size="10.8" text-anchor="middle">a</text>
<text class="l" x="175.50" y="512.70" font-size="10.8" text-anchor="middle">b</text>
<text class="l" x="191.30" y="511.60" font-size="10.8" text-anchor="middle">b</text>
<text class="l" x="219.20" y="539.60" font-size="10.8" text-anchor="middle">a</text>
<text class="l" x="234.00" y="545.50" font-size="10.8" text-anchor="middle">b</text>
<text class="l" x="250.20" y="537.80" font-size="10.8" text-anchor="middle">a</text>
<text x="72.50" y="431.60" font-size="10.6">E</text>
<text x="116.75" y="612.40" font-size="11.5" text-anchor="middle">JT</text>
<text x="175.30" y="612.40" font-size="11.5" text-anchor="middle">HD</text>
<text x="233.85" y="612.40" font-size="11.5" text-anchor="middle">MA</text>
<text x="175.10" y="641.10" font-size="11.5" text-anchor="middle">Growth periods</text>
</g>
<g id="panelF">
<rect x="342.60" y="466.90" width="12.90" height="125.40" fill="#fff" stroke="#000" stroke-width="1.2"/>
<path d="M349.05,463.30 V470.80 M346.05,463.30 h6 M346.05,470.80 h6" stroke="#000" stroke-width="1" fill="none"/>
<rect x="358.10" y="498.20" width="12.90" height="94.10" fill="#fff" stroke="#000" stroke-width="1.2"/>
<path d="M358.10,503.18 L364.10,498.20 M358.10,508.98 L371.00,498.27 M358.10,514.78 L371.00,504.07 M358.10,520.58 L371.00,509.87 M358.10,526.38 L371.00,515.67 M358.10,532.18 L371.00,521.47 M358.10,537.98 L371.00,527.27 M358.10,543.78 L371.00,533.07 M358.10,549.58 L371.00,538.87 M358.10,555.38 L371.00,544.67 M358.10,561.18 L371.00,550.47 M358.10,566.98 L371.00,556.27 M358.10,572.78 L371.00,562.07 M358.10,578.58 L371.00,567.87 M358.10,584.38 L371.00,573.67 M358.10,590.18 L371.00,579.47 M362.53,592.30 L371.00,585.27 M369.52,592.30 L371.00,591.07" stroke="#000" stroke-width="1.2" fill="none"/>
<path d="M364.55,494.50 V501.80 M361.55,494.50 h6 M361.55,501.80 h6" stroke="#000" stroke-width="1" fill="none"/>
<rect x="373.60" y="483.20" width="12.90" height="109.10" fill="#fff" stroke="#000" stroke-width="1.2"/>
<path d="M373.60,485.53 L376.01,483.20 M373.60,491.33 L382.01,483.20 M373.60,497.13 L386.50,484.65 M373.60,502.93 L386.50,490.45 M373.60,508.73 L386.50,496.25 M373.60,514.53 L386.50,502.05 M373.60,520.33 L386.50,507.85 M373.60,526.13 L386.50,513.65 M373.60,531.93 L386.50,519.45 M373.60,537.73 L386.50,525.25 M373.60,543.53 L386.50,531.05 M373.60,549.33 L386.50,536.85 M373.60,555.13 L386.50,542.65 M373.60,560.93 L386.50,548.45 M373.60,566.73 L386.50,554.25 M373.60,572.53 L386.50,560.05 M373.60,578.33 L386.50,565.85 M373.60,584.13 L386.50,571.65 M373.60,589.93 L386.50,577.45 M377.15,592.30 L386.50,583.25 M383.14,592.30 L386.50,589.05 M385.73,483.20 L386.50,483.95 M379.73,483.20 L386.50,489.75 M373.73,483.20 L386.50,495.55 M373.60,488.87 L386.50,501.35 M373.60,494.67 L386.50,507.15 M373.60,500.47 L386.50,512.95 M373.60,506.27 L386.50,518.75 M373.60,512.07 L386.50,524.55 M373.60,517.87 L386.50,530.35 M373.60,523.67 L386.50,536.15 M373.60,529.47 L386.50,541.95 M373.60,535.27 L386.50,547.75 M373.60,541.07 L386.50,553.55 M373.60,546.87 L386.50,559.35 M373.60,552.67 L386.50,565.15 M373.60,558.47 L386.50,570.95 M373.60,564.27 L386.50,576.75 M373.60,570.07 L386.50,582.55 M373.60,575.87 L386.50,588.35 M373.60,581.67 L384.59,592.30 M373.60,587.47 L378.59,592.30" stroke="#000" stroke-width="1.3" fill="none"/>
<path d="M380.05,479.30 V486.80 M377.05,479.30 h6 M377.05,486.80 h6" stroke="#000" stroke-width="1" fill="none"/>
<rect x="401.15" y="508.40" width="12.90" height="83.90" fill="#fff" stroke="#000" stroke-width="1.2"/>
<path d="M407.60,505.10 V512.10 M404.60,505.10 h6 M404.60,512.10 h6" stroke="#000" stroke-width="1" fill="none"/>
<rect x="416.65" y="514.90" width="12.90" height="77.40" fill="#fff" stroke="#000" stroke-width="1.2"/>
<path d="M416.65,518.38 L420.84,514.90 M416.65,524.18 L427.83,514.90 M416.65,529.98 L429.55,519.27 M416.65,535.78 L429.55,525.07 M416.65,541.58 L429.55,530.87 M416.65,547.38 L429.55,536.67 M416.65,553.18 L429.55,542.47 M416.65,558.98 L429.55,548.27 M416.65,564.78 L429.55,554.07 M416.65,570.58 L429.55,559.87 M416.65,576.38 L429.55,565.67 M416.65,582.18 L429.55,571.47 M416.65,587.98 L429.55,577.27 M418.43,592.30 L429.55,583.07 M425.42,592.30 L429.55,588.87" stroke="#000" stroke-width="1.2" fill="none"/>
<path d="M423.10,512.10 V517.50 M420.10,512.10 h6 M420.10,517.50 h6" stroke="#000" stroke-width="1" fill="none"/>
<rect x="432.15" y="515.30" width="12.90" height="77.00" fill="#fff" stroke="#000" stroke-width="1.2"/>
<path d="M432.15,515.91 L432.78,515.30 M432.15,521.71 L438.78,515.30 M432.15,527.51 L444.78,515.30 M432.15,533.31 L445.05,520.84 M432.15,539.11 L445.05,526.64 M432.15,544.91 L445.05,532.44 M432.15,550.71 L445.05,538.24 M432.15,556.51 L445.05,544.04 M432.15,562.31 L445.05,549.84 M432.15,568.11 L445.05,555.64 M432.15,573.91 L445.05,561.44 M432.15,579.71 L445.05,567.24 M432.15,585.51 L445.05,573.04 M432.15,591.31 L445.05,578.84 M437.13,592.30 L445.05,584.64 M443.12,592.30 L445.05,590.44 M442.92,515.30 L445.05,517.36 M436.92,515.30 L445.05,523.16 M432.15,516.49 L445.05,528.96 M432.15,522.29 L445.05,534.76 M432.15,528.09 L445.05,540.56 M432.15,533.89 L445.05,546.36 M432.15,539.69 L445.05,552.16 M432.15,545.49 L445.05,557.96 M432.15,551.29 L445.05,563.76 M432.15,557.09 L445.05,569.56 M432.15,562.89 L445.05,575.36 M432.15,568.69 L445.05,581.16 M432.15,574.49 L445.05,586.96 M432.15,580.29 L444.57,592.30 M432.15,586.09 L438.57,592.30 M432.15,591.89 L432.57,592.30" stroke="#000" stroke-width="1.3" fill="none"/>
<path d="M438.60,512.30 V518.20 M435.60,512.30 h6 M435.60,518.20 h6" stroke="#000" stroke-width="1" fill="none"/>
<rect x="459.70" y="548.30" width="12.90" height="44.00" fill="#fff" stroke="#000" stroke-width="1.2"/>
<path d="M466.15,545.00 V550.90 M463.15,545.00 h6 M463.15,550.90 h6" stroke="#000" stroke-width="1" fill="none"/>
<rect x="475.20" y="554.60" width="12.90" height="37.70" fill="#fff" stroke="#000" stroke-width="1.2"/>
<path d="M475.20,556.78 L477.83,554.60 M475.20,562.58 L484.82,554.60 M475.20,568.38 L488.10,557.68 M475.20,574.18 L488.10,563.48 M475.20,579.98 L488.10,569.28 M475.20,585.78 L488.10,575.08 M475.20,591.58 L488.10,580.88 M481.33,592.30 L488.10,586.68" stroke="#000" stroke-width="1.2" fill="none"/>
<path d="M481.65,552.00 V557.90 M478.65,552.00 h6 M478.65,557.90 h6" stroke="#000" stroke-width="1" fill="none"/>
<rect x="490.70" y="550.90" width="12.90" height="41.40" fill="#fff" stroke="#000" stroke-width="1.2"/>
<path d="M490.70,552.09 L491.93,550.90 M490.70,557.89 L497.93,550.90 M490.70,563.69 L503.60,551.22 M490.70,569.49 L503.60,557.02 M490.70,575.29 L503.60,562.82 M490.70,581.09 L503.60,568.62 M490.70,586.89 L503.60,574.42 M491.11,592.30 L503.60,580.22 M497.10,592.30 L503.60,586.02 M503.10,592.30 L503.60,591.82 M497.72,550.90 L503.60,556.58 M491.73,550.90 L503.60,562.38 M490.70,555.71 L503.60,568.18 M490.70,561.51 L503.60,573.98 M490.70,567.31 L503.60,579.78 M490.70,573.11 L503.60,585.58 M490.70,578.91 L503.60,591.38 M490.70,584.71 L498.55,592.30 M490.70,590.51 L492.55,592.30" stroke="#000" stroke-width="1.3" fill="none"/>
<path d="M497.15,548.10 V553.80 M494.15,548.10 h6 M494.15,553.80 h6" stroke="#000" stroke-width="1" fill="none"/>
<rect x="306.00" y="405.00" width="234.50" height="187.30" fill="none" stroke="#000" stroke-width="1"/>
<path d="M306.00,416.30 h-3.2 M306.00,445.60 h-3.2 M306.00,474.90 h-3.2 M306.00,504.20 h-3.2 M306.00,533.50 h-3.2 M306.00,562.90 h-3.2 M306.00,592.30 h-3.2 M364.55,592.30 v3 M423.10,592.30 v3 M481.65,592.30 v3 " stroke="#000" stroke-width="1" fill="none"/>
<text class="l" x="349.60" y="455.70" font-size="10.8" text-anchor="middle">a</text>
<text class="l" x="364.60" y="488.30" font-size="10.8" text-anchor="middle">c</text>
<text class="l" x="379.50" y="474.20" font-size="10.8" text-anchor="middle">b</text>
<text class="l" x="408.30" y="499.40" font-size="10.8" text-anchor="middle">a</text>
<text class="l" x="422.30" y="508.40" font-size="10.8" text-anchor="middle">b</text>
<text class="l" x="438.60" y="508.40" font-size="10.8" text-anchor="middle">b</text>
<text class="l" x="465.30" y="540.40" font-size="10.8" text-anchor="middle">a</text>
<text class="l" x="480.80" y="548.10" font-size="10.8" text-anchor="middle">b</text>
<text class="l" x="496.00" y="544.80" font-size="10.8" text-anchor="middle">ab</text>
<text x="320.50" y="431.00" font-size="10.6">F</text>
<text x="364.25" y="611.60" font-size="11.5" text-anchor="middle">JT</text>
<text x="422.80" y="611.60" font-size="11.5" text-anchor="middle">HD</text>
<text x="481.35" y="611.60" font-size="11.5" text-anchor="middle">MA</text>
<text x="422.60" y="640.30" font-size="11.5" text-anchor="middle">Growth periods</text>
</g>
<text transform="translate(21.9,104.4) rotate(-90)" font-size="13.5" text-anchor="middle">Shoot dry weight (t ha<tspan font-size="8" dy="-6.5">-1</tspan><tspan dy="6.5">)</tspan></text>
<text transform="translate(17.1,303.1) rotate(-89.2)" font-size="13.25" text-anchor="middle">Root dry weight (g m<tspan font-size="8" dy="-6.5">-2</tspan><tspan dy="6.5">)</tspan></text>
<text transform="translate(17.5,499.4) rotate(-90)" font-size="13.5" text-anchor="middle">Root shoot ratio</text>
</svg></body></html>
